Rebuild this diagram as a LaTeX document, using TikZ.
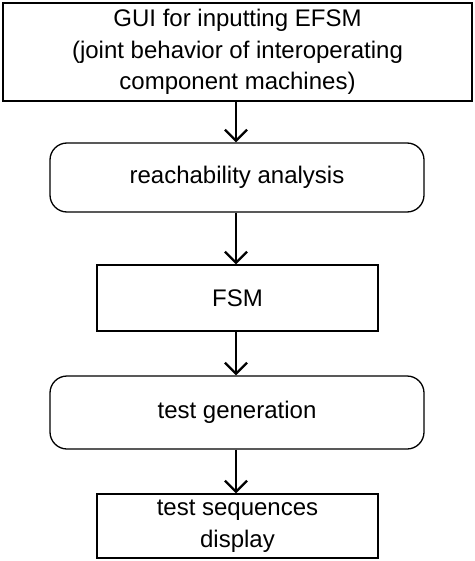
\documentclass[tikz,border=0pt]{standalone}
\usepackage{fontspec}
\setmainfont{Liberation Sans}
\usetikzlibrary{arrows.meta}
\begin{document}
\begin{tikzpicture}[x=1pt,y=1pt,
  box/.style={draw, line width=1.3pt, inner sep=0pt, align=center,
    font=\fontsize{24}{31.5}\selectfont},
  rbox/.style={box, rounded corners=17pt},
  flow/.style={line width=2.3pt, -{Straight Barb[length=11pt,width=22pt,line width=2.3pt]}}]
\useasboundingbox (0,0) rectangle (474,-561);
\node[box, minimum width=469pt, minimum height=98pt] (gui) at (237.5,-52)
  {GUI for inputting EFSM\\(joint behavior of interoperating\\component machines)};
\node[rbox, minimum width=374pt, minimum height=69pt] (reach) at (237,-177.5)
  {reachability analysis};
\node[box, minimum width=281pt, minimum height=66pt] (fsm) at (237.5,-298) {FSM};
\node[rbox, minimum width=374pt, minimum height=73pt] (gen) at (237,-412.5)
  {test generation};
\node[box, minimum width=281pt, minimum height=64pt] (disp) at (237.5,-526)
  {test sequences\\display};
\draw[flow] (gui.south -| 236,0) -- (reach.north -| 236,0);
\draw[flow] (reach.south -| 236,0) -- (fsm.north -| 236,0);
\draw[flow] (fsm.south -| 236,0) -- (gen.north -| 236,0);
\draw[flow] (gen.south -| 236,0) -- (disp.north -| 236,0);
\end{tikzpicture}
\end{document}
